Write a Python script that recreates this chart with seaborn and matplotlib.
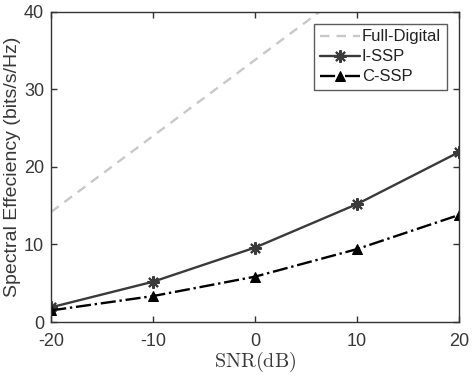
import pandas as pd
import matplotlib
matplotlib.use('Agg')
import matplotlib.pyplot as plt
import seaborn as sns

snr = [-20, -10, 0, 10, 20]
full_digital = [14.2, 24.0, 33.8, 43.6, 53.4]
i_ssp = [1.9, 5.2, 9.6, 15.2, 21.9]
c_ssp = [1.5, 3.35, 5.85, 9.4, 13.8]

sns.set_style('ticks')
plt.rcParams['font.family'] = ['Liberation Sans', 'DejaVu Sans']
plt.rcParams['mathtext.fontset'] = 'cm'
plt.rcParams['axes.unicode_minus'] = False

fig = plt.figure(figsize=(4.74, 3.82), dpi=100)
ax = fig.add_axes([0.108, 0.157, 0.86, 0.812])

txt = '#383838'
sns.lineplot(x=snr, y=full_digital, ax=ax, color='#c8c8c8', linestyle=(0, (4, 3)),
             linewidth=1.7, label='Full-Digital')
sns.lineplot(x=snr, y=i_ssp, ax=ax, color='#3a3a3a', linestyle='-', linewidth=1.7,
             marker=(8, 2, 0), markersize=9, markeredgewidth=1.5,
             markeredgecolor='#3a3a3a', label='I-SSP')
sns.lineplot(x=snr, y=c_ssp, ax=ax, color='black', linestyle='-.', linewidth=1.7,
             marker='^', markersize=7, markeredgecolor='black', label='C-SSP')

ax.set_xlim(-20, 20)
ax.set_ylim(0, 40)
ax.set_xticks(snr)
ax.set_yticks([0, 10, 20, 30, 40])
ax.tick_params(direction='in', top=True, right=True, length=4, width=1,
               labelsize=13, labelcolor=txt, color='#333333')
ax.tick_params(axis='x', pad=8)
ax.tick_params(axis='y', pad=5)
for s in ax.spines.values():
    s.set_color('#333333')
    s.set_linewidth(1.0)

ax.set_xlabel(r'$\mathrm{SNR(dB)}$', fontsize=14.5, color=txt, labelpad=0)
ax.set_ylabel('Spectral Effeciency (bits/s/Hz)', fontsize=14, color=txt, labelpad=2)

leg = ax.legend(loc='upper right', bbox_to_anchor=(0.97, 0.962), fontsize=12,
                frameon=True, fancybox=False, handlelength=2.4, borderpad=0.35,
                labelspacing=0.3, handletextpad=0.1, borderaxespad=0)
leg.get_frame().set_edgecolor('#333333')
leg.get_frame().set_linewidth(1.0)
for t in leg.get_texts():
    t.set_color('#222222')

fig.savefig('out.png', dpi=100)
